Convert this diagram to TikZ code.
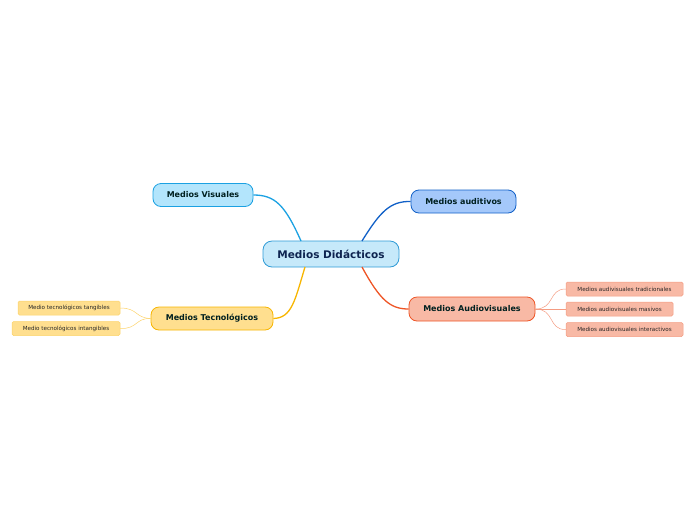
\documentclass[tikz,border=0pt]{standalone}
\usepackage{fontspec}
\setmainfont{DejaVu Sans}
\begin{document}
\begin{tikzpicture}[x=1pt,y=-1pt,
 box/.style={rounded corners=#1, draw, line width=0.8pt, inner sep=0pt, text=black!80!green!60!blue},
 main/.style={box=8pt, font=\fontsize{8}{9}\selectfont\bfseries, text=black!75!teal},
 sub/.style={box=1.5pt, line width=0.5pt, font=\fontsize{5.6}{6}\selectfont, text=black!85},
 con/.style={line width=1.3pt},
 scon/.style={line width=0.5pt}]
\useasboundingbox (0,0) rectangle (696,520);
\definecolor{cfill}{HTML}{C6E9FA}\definecolor{cline}{HTML}{2F9BD6}
\definecolor{vfill}{HTML}{B3E5FC}\definecolor{vline}{HTML}{1BA1E2}
\definecolor{afill}{HTML}{A4C8FA}\definecolor{aline}{HTML}{1160C7}
\definecolor{ofill}{HTML}{F8B9A5}\definecolor{oline}{HTML}{EE5526}
\definecolor{osub}{HTML}{F49C82}
\definecolor{tfill}{HTML}{FFDF8F}\definecolor{tline}{HTML}{F7B500}
\definecolor{tsub}{HTML}{FCD36A}
\node[box=9pt, fill=cfill, draw=cline, minimum width=136pt, minimum height=26pt, font=\fontsize{10.5}{12}\selectfont\bfseries, text={rgb,255:red,14;green,36;blue,80}] (c) at (331,254) {Medios Didácticos};
\node[main, fill=vfill, draw=vline, minimum width=100pt, minimum height=23pt] (v) at (203,195) {Medios Visuales};
\node[main, fill=afill, draw=aline, minimum width=105pt, minimum height=23pt] (a) at (463.5,201.5) {Medios auditivos};
\node[main, fill=ofill, draw=oline, minimum width=126pt, minimum height=24pt] (o) at (472,309) {Medios Audiovisuales};
\node[main, fill=tfill, draw=tline, minimum width=122pt, minimum height=23pt] (t) at (212,318.5) {Medios Tecnológicos};
\node[sub, fill=ofill, draw=osub, minimum width=117pt, minimum height=14pt] (o1) at (624.5,289) {Medios audivisuales tradicionales};
\node[sub, fill=ofill, draw=osub, minimum width=107pt, minimum height=14pt] (o2) at (619.5,309) {Medios audiovisuales masivos};
\node[sub, fill=ofill, draw=osub, minimum width=117pt, minimum height=14pt] (o3) at (624.5,329.5) {Medios audiovisuales interactivos};
\node[sub, fill=tfill, draw=tsub, minimum width=102pt, minimum height=14pt] (t1) at (69,308) {Medio tecnológicos tangibles};
\node[sub, fill=tfill, draw=tsub, minimum width=108pt, minimum height=14pt] (t2) at (66,328.5) {Medio tecnológicos intangibles};
\draw[con, vline] (301,241) .. controls (285,205) and (275,195) .. (v.east);
\draw[con, aline] (362,241) .. controls (380,212) and (390,201) .. (a.west);
\draw[con, oline] (362,267) .. controls (380,300) and (390,309) .. (o.west);
\draw[con, tline] (305,267) .. controls (295,300) and (292,318) .. (t.east);
\draw[scon, osub] (o.east) .. controls (555,309) and (548,289) .. (o1.west);
\draw[scon, osub] (o.east) -- (o2.west);
\draw[scon, osub] (o.east) .. controls (555,309) and (548,330) .. (o3.west);
\draw[scon, tsub] (t.west) .. controls (135,318) and (138,308) .. (t1.east);
\draw[scon, tsub] (t.west) .. controls (135,318) and (138,329) .. (t2.east);
\end{tikzpicture}
\end{document}
